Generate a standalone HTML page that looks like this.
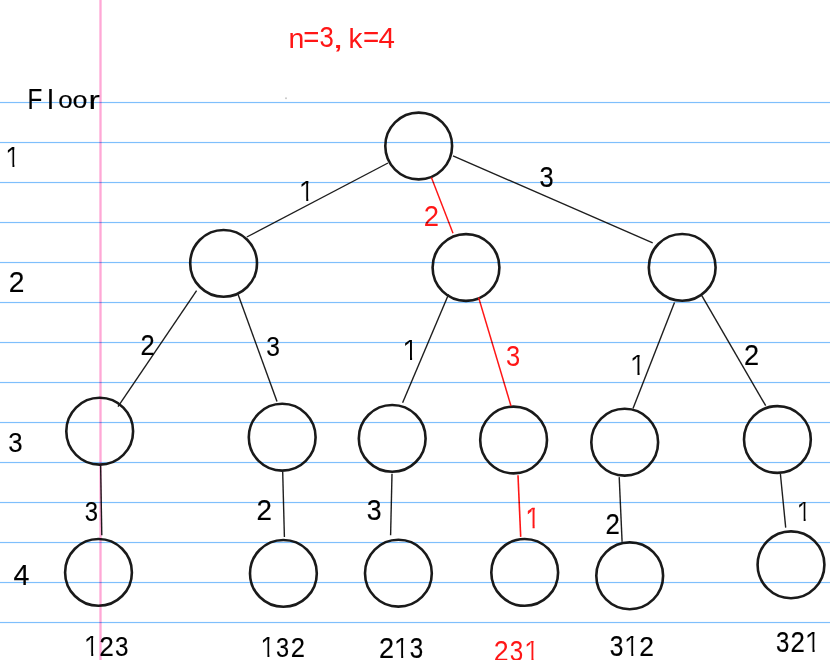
<!DOCTYPE html>
<html><head><meta charset="utf-8"><title>Permutation tree n=3, k=4</title><style>
html,body{margin:0;padding:0;background:#fff;width:830px;height:660px;overflow:hidden}
svg{display:block;will-change:transform}
text{font-family:"Liberation Sans",sans-serif;font-size:28.0px}
</style></head><body>
<svg width="830" height="660" viewBox="0 0 830 660">
<defs><clipPath id="c1"><path d="M-5.00 -40.00H40.00V-16.91H-5.00ZM-5.00 -16.91H6.34V-3.69H-5.00ZM7.49 -16.92H9.57V5.00H7.49Z"/></clipPath></defs>
<rect width="830" height="660" fill="#fff"/>

<circle cx="286" cy="98.2" r="1" fill="#c8c8c8"/>
<g fill="none" stroke="#1a1a1a" stroke-width="2.6">
<circle cx="418.7" cy="146" r="33.4"/>
<circle cx="223.6" cy="263.4" r="33.4"/>
<circle cx="466" cy="267.5" r="33.4"/>
<circle cx="682.2" cy="267.4" r="33.4"/>
<circle cx="99.7" cy="431.2" r="33.4"/>
<circle cx="282.2" cy="437.2" r="33.4"/>
<circle cx="392.2" cy="438.4" r="33.4"/>
<circle cx="513.6" cy="440" r="33.4"/>
<circle cx="624.7" cy="442.2" r="33.4"/>
<circle cx="777.4" cy="439.5" r="33.4"/>
<circle cx="98.5" cy="572.4" r="33.4"/>
<circle cx="283.4" cy="573.4" r="33.4"/>
<circle cx="398.4" cy="573.2" r="33.4"/>
<circle cx="524.7" cy="572.4" r="33.4"/>
<circle cx="629.7" cy="575.8" r="33.4"/>
<circle cx="791" cy="564.8" r="33.4"/>
</g>
<g stroke="#1e1e1e" stroke-width="1.4">
<line x1="388" y1="163" x2="246.8" y2="237"/>
<line x1="453" y1="155.8" x2="652.7" y2="242.9"/>
<line x1="196.6" y1="290.7" x2="118" y2="406.6"/>
<line x1="238" y1="294.3" x2="277" y2="401.6"/>
<line x1="448.6" y1="294.3" x2="402.6" y2="402.7"/>
<line x1="674.5" y1="302.5" x2="633" y2="408.4"/>
<line x1="701.8" y1="295.7" x2="765.7" y2="405.7"/>
<line x1="100.6" y1="464.2" x2="101.8" y2="535.2"/>
<line x1="282.7" y1="472" x2="284.4" y2="536.9"/>
<line x1="392" y1="473.7" x2="390.6" y2="535.3"/>
<line x1="619.2" y1="477.1" x2="622.1" y2="541.9"/>
<line x1="780.4" y1="474" x2="785.7" y2="527.6"/>
</g>
<g stroke="#ff1616" stroke-width="1.45">
<line x1="431.4" y1="177.6" x2="453" y2="233.2"/>
<line x1="478.6" y1="297.5" x2="511" y2="406"/>
<line x1="518" y1="475.3" x2="520.7" y2="536.9" stroke-width="1.6"/>
</g>
<g fill="#000" stroke="#000" stroke-width="0.15">
<text transform="translate(5.61 167.23) scale(0.9161 1.0408)" clip-path="url(#c1)">1</text>
<text transform="translate(8.66 292.23) scale(1.0074 1.0306)">2</text>
<text transform="translate(8.19 451.95) scale(0.9228 1.0164)">3</text>
<text transform="translate(13.62 584.62) scale(1.0241 1.0460)">4</text>
<text transform="translate(298.95 201.43) scale(0.9747 1.0616)" clip-path="url(#c1)">1</text>
<text transform="translate(423.82 226.40) scale(0.9799 1.0690)" fill="#ff1616" stroke="#ff1616" stroke-width="0.0">2</text>
<text transform="translate(539.61 187.24) scale(0.9077 1.0265)">3</text>
<text transform="translate(140.49 355.12) scale(0.9133 1.0562)">2</text>
<text transform="translate(266.14 355.85) scale(0.8776 1.0164)">3</text>
<text transform="translate(402.61 359.73) scale(0.9894 1.0512)" clip-path="url(#c1)">1</text>
<text transform="translate(505.93 366.41) scale(0.9115 1.0492)" fill="#ff1616" stroke="#ff1616" stroke-width="0.0">3</text>
<text transform="translate(629.97 375.12) scale(1.0041 1.0720)" clip-path="url(#c1)">1</text>
<text transform="translate(744.11 365.12) scale(0.9682 1.0562)">2</text>
<text transform="translate(84.66 520.85) scale(0.8550 1.0013)">3</text>
<text transform="translate(256.38 519.92) scale(0.9917 1.0613)">2</text>
<text transform="translate(366.76 520.04) scale(0.9529 1.0265)">3</text>
<text transform="translate(525.48 527.65) scale(0.9528 1.0798)" fill="#ff1616" stroke="#ff1616" stroke-width="0.5" clip-path="url(#c1)">1</text>
<text transform="translate(605.48 533.82) scale(0.9211 1.0255)">2</text>
<text transform="translate(796.81 520.62) scale(0.9161 1.0097)" clip-path="url(#c1)">1</text>
<text transform="translate(84.11 656.22) scale(0.9528 1.0720)" clip-path="url(#c1)">1</text>
<text transform="translate(99.26 655.62) scale(0.9368 0.9948)">2</text>
<text transform="translate(114.96 655.95) scale(0.8625 1.0114)">3</text>
<text transform="translate(260.47 657.12) scale(0.9308 1.0460)" clip-path="url(#c1)">1</text>
<text transform="translate(276.08 657.05) scale(0.8399 1.0114)">3</text>
<text transform="translate(290.79 657.12) scale(0.9133 1.0153)">2</text>
<text transform="translate(379.01 658.22) scale(0.9682 1.0255)">2</text>
<text transform="translate(393.99 658.42) scale(0.9601 1.0668)" clip-path="url(#c1)">1</text>
<text transform="translate(409.86 658.24) scale(0.8625 1.0265)">3</text>
<text transform="translate(493.65 661.00) scale(0.9564 1.0383)" fill="#ff1616" stroke="#ff1616" stroke-width="0.0">2</text>
<text transform="translate(509.78 660.72) scale(0.8663 1.0240)" fill="#ff1616" stroke="#ff1616" stroke-width="0.0">3</text>
<text transform="translate(523.88 660.70) scale(1.0114 1.0694)" fill="#ff1616" stroke="#ff1616" stroke-width="0.0" clip-path="url(#c1)">1</text>
<text transform="translate(609.64 655.94) scale(0.8776 1.0417)">3</text>
<text transform="translate(624.23 655.92) scale(0.9454 1.0564)" clip-path="url(#c1)">1</text>
<text transform="translate(639.24 655.62) scale(0.9447 1.0102)">2</text>
<text transform="translate(775.96 652.04) scale(0.8550 1.0265)">3</text>
<text transform="translate(790.58 652.12) scale(0.9211 1.0306)">2</text>
<text transform="translate(805.11 652.12) scale(0.9894 1.0616)" clip-path="url(#c1)">1</text>
<text transform="translate(288.51 47.60) scale(1.0173 0.9624)" fill="#ff1616" stroke="#ff1616" stroke-width="0.0">n</text>
<text transform="translate(303.25 47.01) scale(0.9850 1.0861)" fill="#ff1616" stroke="#ff1616" stroke-width="0.0">=</text>
<text transform="translate(319.42 47.32) scale(0.9190 1.0341)" fill="#ff1616" stroke="#ff1616" stroke-width="0.0">3</text>
<text transform="translate(332.15 47.51) scale(1.4920 0.9732)" fill="#ff1616" stroke="#ff1616" stroke-width="0.0">,</text>
<text transform="translate(348.62 47.60) scale(0.9955 1.0104)" fill="#ff1616" stroke="#ff1616" stroke-width="0.0">k</text>
<text transform="translate(362.94 47.01) scale(0.9924 1.0861)" fill="#ff1616" stroke="#ff1616" stroke-width="0.0">=</text>
<text transform="translate(378.42 47.60) scale(1.0560 1.0642)" fill="#ff1616" stroke="#ff1616" stroke-width="0.0">4</text>
<text transform="translate(27.49 108.52) scale(0.8659 1.0304)">F</text>
<text transform="translate(47.22 108.52) scale(1.0362 0.9784)">l</text>
<text transform="translate(58.19 108.29) scale(0.9266 0.8768)">o</text>
<text transform="translate(72.55 108.29) scale(0.9568 0.8768)">o</text>
<text transform="translate(88.50 108.83) scale(1.2214 0.9126)">r</text>
</g>
<g fill="#7ebffc" shape-rendering="crispEdges" style="mix-blend-mode:multiply">
<rect x="0" y="102" width="830" height="1"/>
<rect x="0" y="142" width="830" height="1"/>
<rect x="0" y="182" width="830" height="1"/>
<rect x="0" y="222" width="830" height="1"/>
<rect x="0" y="262" width="830" height="1"/>
<rect x="0" y="302" width="830" height="1"/>
<rect x="0" y="342" width="830" height="1"/>
<rect x="0" y="382" width="830" height="1"/>
<rect x="0" y="422" width="830" height="1"/>
<rect x="0" y="462" width="830" height="1"/>
<rect x="0" y="502" width="830" height="1"/>
<rect x="0" y="542" width="830" height="1"/>
<rect x="0" y="582" width="830" height="1"/>
<rect x="0" y="622" width="830" height="1"/>
<rect x="0" y="101" width="830" height="1" opacity="0.07"/><rect x="0" y="103" width="830" height="1" opacity="0.11"/>
<rect x="0" y="141" width="830" height="1" opacity="0.07"/><rect x="0" y="143" width="830" height="1" opacity="0.11"/>
<rect x="0" y="181" width="830" height="1" opacity="0.07"/><rect x="0" y="183" width="830" height="1" opacity="0.11"/>
<rect x="0" y="221" width="830" height="1" opacity="0.07"/><rect x="0" y="223" width="830" height="1" opacity="0.11"/>
<rect x="0" y="261" width="830" height="1" opacity="0.07"/><rect x="0" y="263" width="830" height="1" opacity="0.11"/>
<rect x="0" y="301" width="830" height="1" opacity="0.07"/><rect x="0" y="303" width="830" height="1" opacity="0.11"/>
<rect x="0" y="341" width="830" height="1" opacity="0.07"/><rect x="0" y="343" width="830" height="1" opacity="0.11"/>
<rect x="0" y="381" width="830" height="1" opacity="0.07"/><rect x="0" y="383" width="830" height="1" opacity="0.11"/>
<rect x="0" y="421" width="830" height="1" opacity="0.07"/><rect x="0" y="423" width="830" height="1" opacity="0.11"/>
<rect x="0" y="461" width="830" height="1" opacity="0.07"/><rect x="0" y="463" width="830" height="1" opacity="0.11"/>
<rect x="0" y="501" width="830" height="1" opacity="0.07"/><rect x="0" y="503" width="830" height="1" opacity="0.11"/>
<rect x="0" y="541" width="830" height="1" opacity="0.07"/><rect x="0" y="543" width="830" height="1" opacity="0.11"/>
<rect x="0" y="581" width="830" height="1" opacity="0.07"/><rect x="0" y="583" width="830" height="1" opacity="0.11"/>
<rect x="0" y="621" width="830" height="1" opacity="0.07"/><rect x="0" y="623" width="830" height="1" opacity="0.11"/>
</g>
<rect x="99.35" y="0" width="2.3" height="660" fill="#ffa8d6" style="mix-blend-mode:multiply"/>
</svg>
</body></html>
